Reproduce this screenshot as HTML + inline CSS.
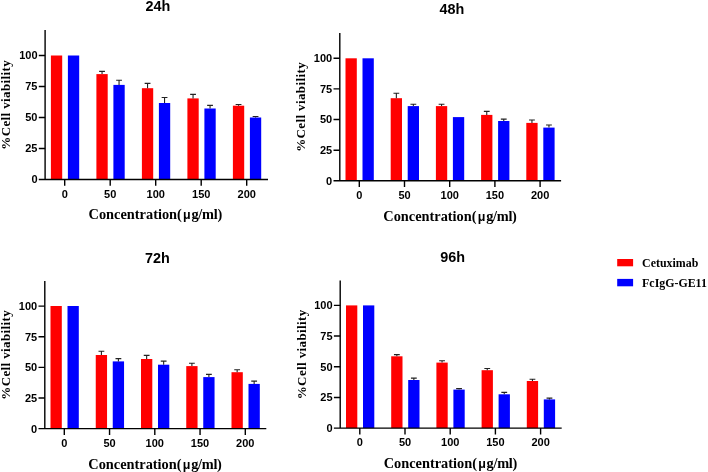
<!DOCTYPE html>
<html><head><meta charset="utf-8"><style>
html,body{margin:0;padding:0;background:#fff;}
body{width:708px;height:472px;overflow:hidden;}
svg{display:block;filter:blur(0.35px);}
.tl{font:bold 11px "Liberation Sans",sans-serif;fill:#000;}
.tt{font:bold 14.4px "Liberation Sans",sans-serif;fill:#000;}
.yt{font:bold 13px "Liberation Serif",serif;letter-spacing:0.38px;fill:#000;}
.xt{font:bold 14.35px "Liberation Serif",serif;fill:#000;}
.mu{font-weight:bold;font-size:12.5px;font-family:"Liberation Sans",sans-serif;}
.lg{font:bold 11.9px "Liberation Serif",serif;fill:#000;}
</style></head><body>
<svg width="708" height="472" viewBox="0 0 708 472">
<rect x="50.9" y="55.5" width="11.3" height="124" fill="#ff0000"/>
<rect x="67.9" y="55.5" width="11.3" height="124" fill="#0000ff"/>
<rect x="96.4" y="74.1" width="11.3" height="105.4" fill="#ff0000"/>
<path d="M102.05 74.1V71.4M99.15 71.4H104.95" stroke="#222" stroke-width="1.1" fill="none"/>
<rect x="113.4" y="84.9" width="11.3" height="94.6" fill="#0000ff"/>
<path d="M119.05 84.9V80.3M116.15 80.3H121.95" stroke="#222" stroke-width="1.1" fill="none"/>
<rect x="141.9" y="88.2" width="11.3" height="91.3" fill="#ff0000"/>
<path d="M147.55 88.2V83.4M144.65 83.4H150.45" stroke="#222" stroke-width="1.1" fill="none"/>
<rect x="158.9" y="103" width="11.3" height="76.5" fill="#0000ff"/>
<path d="M164.55 103V97.5M161.65 97.5H167.45" stroke="#222" stroke-width="1.1" fill="none"/>
<rect x="187.4" y="98.4" width="11.3" height="81.1" fill="#ff0000"/>
<path d="M193.05 98.4V94.4M190.15 94.4H195.95" stroke="#222" stroke-width="1.1" fill="none"/>
<rect x="204.4" y="108.5" width="11.3" height="71" fill="#0000ff"/>
<path d="M210.05 108.5V105.4M207.15 105.4H212.95" stroke="#222" stroke-width="1.1" fill="none"/>
<rect x="232.9" y="105.7" width="11.3" height="73.8" fill="#ff0000"/>
<path d="M238.55 105.7V104.5M235.65 104.5H241.45" stroke="#222" stroke-width="1.1" fill="none"/>
<rect x="249.9" y="117.5" width="11.3" height="62" fill="#0000ff"/>
<path d="M255.55 117.5V116.5M252.65 116.5H258.45" stroke="#222" stroke-width="1.1" fill="none"/>
<path d="M45.1 30.1V179.5M38.8 179.5H268" stroke="#000" stroke-width="1.4" fill="none"/>
<path d="M38.8 148.5H45.1M38.8 117.5H45.1M38.8 86.5H45.1M38.8 55.5H45.1M64.7 179.5V185.8M110.2 179.5V185.8M155.7 179.5V185.8M201.2 179.5V185.8M246.7 179.5V185.8" stroke="#000" stroke-width="1.4" fill="none"/>
<text x="37.5" y="183.4" class="tl" text-anchor="end">0</text>
<text x="37.5" y="152.4" class="tl" text-anchor="end">25</text>
<text x="37.5" y="121.4" class="tl" text-anchor="end">50</text>
<text x="37.5" y="90.4" class="tl" text-anchor="end">75</text>
<text x="37.5" y="59.4" class="tl" text-anchor="end">100</text>
<text x="64.7" y="197.8" class="tl" text-anchor="middle">0</text>
<text x="110.2" y="197.8" class="tl" text-anchor="middle">50</text>
<text x="155.7" y="197.8" class="tl" text-anchor="middle">100</text>
<text x="201.2" y="197.8" class="tl" text-anchor="middle">150</text>
<text x="246.7" y="197.8" class="tl" text-anchor="middle">200</text>
<text x="158" y="11.4" class="tt" text-anchor="middle">24h</text>
<text transform="translate(10.4 104.8) rotate(-90)" class="yt" text-anchor="middle">%Cell viability</text>
<text x="88.6" y="219.4" class="xt">Concentration(<tspan class="mu" dx="1.2">μ</tspan><tspan dx="0.8" style="letter-spacing:-0.3px">g/ml)</tspan></text>
<rect x="345.5" y="58.3" width="11.3" height="122.5" fill="#ff0000"/>
<rect x="362.5" y="58.3" width="11.3" height="122.5" fill="#0000ff"/>
<rect x="390.7" y="98.2" width="11.3" height="82.6" fill="#ff0000"/>
<path d="M396.35 98.2V93.3M393.45 93.3H399.25" stroke="#222" stroke-width="1.1" fill="none"/>
<rect x="407.7" y="106.1" width="11.3" height="74.7" fill="#0000ff"/>
<path d="M413.35 106.1V104.2M410.45 104.2H416.25" stroke="#222" stroke-width="1.1" fill="none"/>
<rect x="435.9" y="106.1" width="11.3" height="74.7" fill="#ff0000"/>
<path d="M441.55 106.1V104.2M438.65 104.2H444.45" stroke="#222" stroke-width="1.1" fill="none"/>
<rect x="452.9" y="117.1" width="11.3" height="63.7" fill="#0000ff"/>
<rect x="481.1" y="114.9" width="11.3" height="65.9" fill="#ff0000"/>
<path d="M486.75 114.9V111.4M483.85 111.4H489.65" stroke="#222" stroke-width="1.1" fill="none"/>
<rect x="498.1" y="121" width="11.3" height="59.8" fill="#0000ff"/>
<path d="M503.75 121V119.1M500.85 119.1H506.65" stroke="#222" stroke-width="1.1" fill="none"/>
<rect x="526.3" y="122.9" width="11.3" height="57.9" fill="#ff0000"/>
<path d="M531.95 122.9V120M529.05 120H534.85" stroke="#222" stroke-width="1.1" fill="none"/>
<rect x="543.3" y="127.6" width="11.3" height="53.2" fill="#0000ff"/>
<path d="M548.95 127.6V125M546.05 125H551.85" stroke="#222" stroke-width="1.1" fill="none"/>
<path d="M339.8 33V180.8M333.5 180.8H561.1" stroke="#000" stroke-width="1.4" fill="none"/>
<path d="M333.5 150.18H339.8M333.5 119.55H339.8M333.5 88.92H339.8M333.5 58.3H339.8M359.3 180.8V187.1M404.5 180.8V187.1M449.7 180.8V187.1M494.9 180.8V187.1M540.1 180.8V187.1" stroke="#000" stroke-width="1.4" fill="none"/>
<text x="332.2" y="184.7" class="tl" text-anchor="end">0</text>
<text x="332.2" y="154.08" class="tl" text-anchor="end">25</text>
<text x="332.2" y="123.45" class="tl" text-anchor="end">50</text>
<text x="332.2" y="92.83" class="tl" text-anchor="end">75</text>
<text x="332.2" y="62.2" class="tl" text-anchor="end">100</text>
<text x="359.3" y="199.1" class="tl" text-anchor="middle">0</text>
<text x="404.5" y="199.1" class="tl" text-anchor="middle">50</text>
<text x="449.7" y="199.1" class="tl" text-anchor="middle">100</text>
<text x="494.9" y="199.1" class="tl" text-anchor="middle">150</text>
<text x="540.1" y="199.1" class="tl" text-anchor="middle">200</text>
<text x="452" y="13.8" class="tt" text-anchor="middle">48h</text>
<text transform="translate(305.1 106.9) rotate(-90)" class="yt" text-anchor="middle">%Cell viability</text>
<text x="383.3" y="220.7" class="xt">Concentration(<tspan class="mu" dx="1.2">μ</tspan><tspan dx="0.8" style="letter-spacing:-0.3px">g/ml)</tspan></text>
<rect x="50.5" y="306" width="11.3" height="122.6" fill="#ff0000"/>
<rect x="67.5" y="306" width="11.3" height="122.6" fill="#0000ff"/>
<rect x="95.75" y="355" width="11.3" height="73.6" fill="#ff0000"/>
<path d="M101.4 355V351.2M98.5 351.2H104.3" stroke="#222" stroke-width="1.1" fill="none"/>
<rect x="112.75" y="361.4" width="11.3" height="67.2" fill="#0000ff"/>
<path d="M118.4 361.4V358.6M115.5 358.6H121.3" stroke="#222" stroke-width="1.1" fill="none"/>
<rect x="141" y="359" width="11.3" height="69.6" fill="#ff0000"/>
<path d="M146.65 359V355.4M143.75 355.4H149.55" stroke="#222" stroke-width="1.1" fill="none"/>
<rect x="158" y="364.7" width="11.3" height="63.9" fill="#0000ff"/>
<path d="M163.65 364.7V361.1M160.75 361.1H166.55" stroke="#222" stroke-width="1.1" fill="none"/>
<rect x="186.25" y="366.1" width="11.3" height="62.5" fill="#ff0000"/>
<path d="M191.9 366.1V363.3M189 363.3H194.8" stroke="#222" stroke-width="1.1" fill="none"/>
<rect x="203.25" y="377.1" width="11.3" height="51.5" fill="#0000ff"/>
<path d="M208.9 377.1V374.4M206 374.4H211.8" stroke="#222" stroke-width="1.1" fill="none"/>
<rect x="231.5" y="372.2" width="11.3" height="56.4" fill="#ff0000"/>
<path d="M237.15 372.2V369.7M234.25 369.7H240.05" stroke="#222" stroke-width="1.1" fill="none"/>
<rect x="248.5" y="383.9" width="11.3" height="44.7" fill="#0000ff"/>
<path d="M254.15 383.9V381.1M251.25 381.1H257.05" stroke="#222" stroke-width="1.1" fill="none"/>
<path d="M44.8 281V428.6M38.5 428.6H266.3" stroke="#000" stroke-width="1.4" fill="none"/>
<path d="M38.5 397.98H44.8M38.5 367.35H44.8M38.5 336.73H44.8M38.5 306.1H44.8M64.3 428.6V434.9M109.55 428.6V434.9M154.8 428.6V434.9M200.05 428.6V434.9M245.3 428.6V434.9" stroke="#000" stroke-width="1.4" fill="none"/>
<text x="37.2" y="432.5" class="tl" text-anchor="end">0</text>
<text x="37.2" y="401.88" class="tl" text-anchor="end">25</text>
<text x="37.2" y="371.25" class="tl" text-anchor="end">50</text>
<text x="37.2" y="340.62" class="tl" text-anchor="end">75</text>
<text x="37.2" y="310" class="tl" text-anchor="end">100</text>
<text x="64.3" y="446.9" class="tl" text-anchor="middle">0</text>
<text x="109.55" y="446.9" class="tl" text-anchor="middle">50</text>
<text x="154.8" y="446.9" class="tl" text-anchor="middle">100</text>
<text x="200.05" y="446.9" class="tl" text-anchor="middle">150</text>
<text x="245.3" y="446.9" class="tl" text-anchor="middle">200</text>
<text x="157.4" y="262.8" class="tt" text-anchor="middle">72h</text>
<text transform="translate(10.1 354.8) rotate(-90)" class="yt" text-anchor="middle">%Cell viability</text>
<text x="88.3" y="468.5" class="xt">Concentration(<tspan class="mu" dx="1.2">μ</tspan><tspan dx="0.8" style="letter-spacing:-0.3px">g/ml)</tspan></text>
<rect x="346" y="305.4" width="11.3" height="122.7" fill="#ff0000"/>
<rect x="363" y="305.4" width="11.3" height="122.7" fill="#0000ff"/>
<rect x="391.2" y="356.3" width="11.3" height="71.8" fill="#ff0000"/>
<path d="M396.85 356.3V354.6M393.95 354.6H399.75" stroke="#222" stroke-width="1.1" fill="none"/>
<rect x="408.2" y="380" width="11.3" height="48.1" fill="#0000ff"/>
<path d="M413.85 380V378.1M410.95 378.1H416.75" stroke="#222" stroke-width="1.1" fill="none"/>
<rect x="436.4" y="362.6" width="11.3" height="65.5" fill="#ff0000"/>
<path d="M442.05 362.6V360.7M439.15 360.7H444.95" stroke="#222" stroke-width="1.1" fill="none"/>
<rect x="453.4" y="389.6" width="11.3" height="38.5" fill="#0000ff"/>
<path d="M459.05 389.6V388.6M456.15 388.6H461.95" stroke="#222" stroke-width="1.1" fill="none"/>
<rect x="481.6" y="370.2" width="11.3" height="57.9" fill="#ff0000"/>
<path d="M487.25 370.2V368.5M484.35 368.5H490.15" stroke="#222" stroke-width="1.1" fill="none"/>
<rect x="498.6" y="394.3" width="11.3" height="33.8" fill="#0000ff"/>
<path d="M504.25 394.3V392.4M501.35 392.4H507.15" stroke="#222" stroke-width="1.1" fill="none"/>
<rect x="526.8" y="381" width="11.3" height="47.1" fill="#ff0000"/>
<path d="M532.45 381V379.3M529.55 379.3H535.35" stroke="#222" stroke-width="1.1" fill="none"/>
<rect x="543.8" y="399.4" width="11.3" height="28.7" fill="#0000ff"/>
<path d="M549.45 399.4V398.1M546.55 398.1H552.35" stroke="#222" stroke-width="1.1" fill="none"/>
<path d="M340.2 280.6V428.1M333.9 428.1H561.7" stroke="#000" stroke-width="1.4" fill="none"/>
<path d="M333.9 397.43H340.2M333.9 366.75H340.2M333.9 336.07H340.2M333.9 305.4H340.2M359.8 428.1V434.4M405 428.1V434.4M450.2 428.1V434.4M495.4 428.1V434.4M540.6 428.1V434.4" stroke="#000" stroke-width="1.4" fill="none"/>
<text x="332.6" y="432" class="tl" text-anchor="end">0</text>
<text x="332.6" y="401.32" class="tl" text-anchor="end">25</text>
<text x="332.6" y="370.65" class="tl" text-anchor="end">50</text>
<text x="332.6" y="339.97" class="tl" text-anchor="end">75</text>
<text x="332.6" y="309.3" class="tl" text-anchor="end">100</text>
<text x="359.8" y="446.4" class="tl" text-anchor="middle">0</text>
<text x="405" y="446.4" class="tl" text-anchor="middle">50</text>
<text x="450.2" y="446.4" class="tl" text-anchor="middle">100</text>
<text x="495.4" y="446.4" class="tl" text-anchor="middle">150</text>
<text x="540.6" y="446.4" class="tl" text-anchor="middle">200</text>
<text x="452.6" y="262" class="tt" text-anchor="middle">96h</text>
<text transform="translate(305.5 354.35) rotate(-90)" class="yt" text-anchor="middle">%Cell viability</text>
<text x="383.7" y="468" class="xt">Concentration(<tspan class="mu" dx="1.2">μ</tspan><tspan dx="0.8" style="letter-spacing:-0.3px">g/ml)</tspan></text>
<rect x="617.2" y="259" width="15.9" height="7.3" fill="#ff0000"/>
<rect x="617.2" y="278.9" width="15.9" height="7.4" fill="#0000ff"/>
<text x="642.1" y="266.9" class="lg">Cetuximab</text>
<text x="642.1" y="286.7" class="lg">FcIgG-GE11</text>
</svg>
</body></html>
